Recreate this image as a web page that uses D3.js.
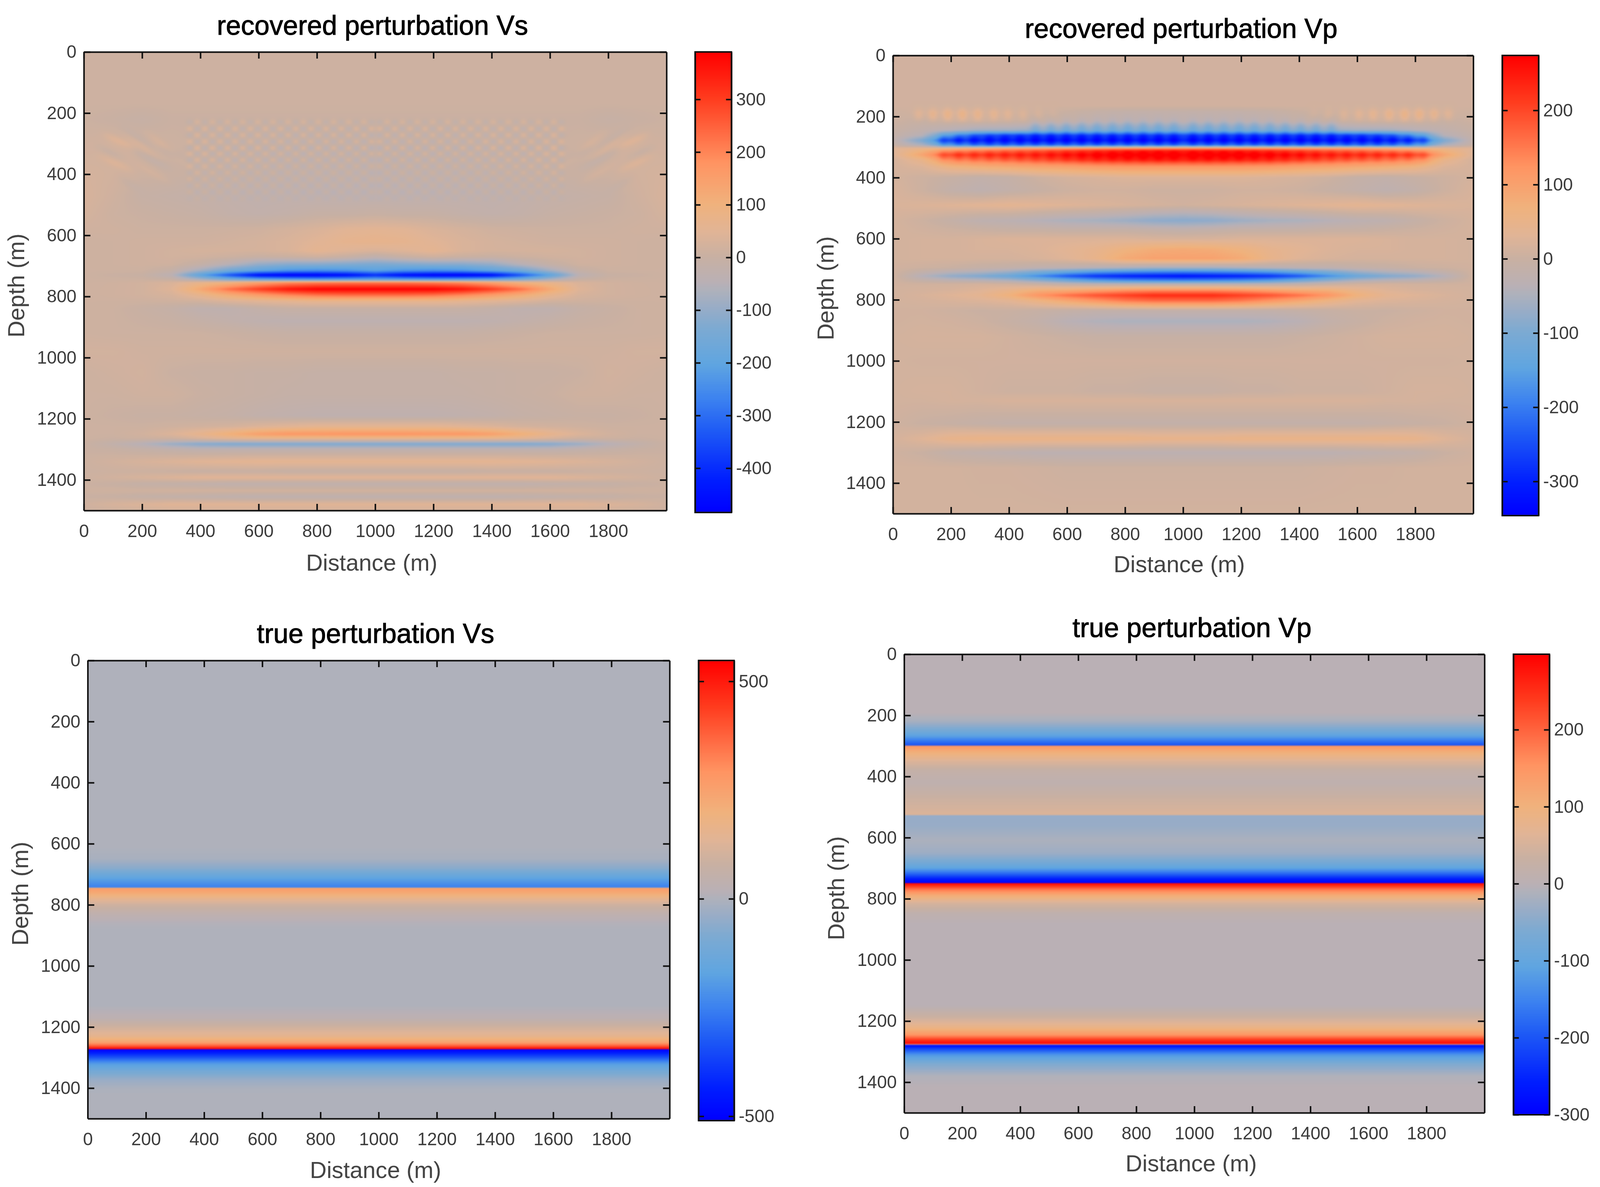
<!DOCTYPE html>
<html>
<head>
<meta charset="utf-8">
<title>perturbation</title>
<script src="https://cdn.jsdelivr.net/npm/d3@7"></script>
<style>
  html, body { margin: 0; padding: 0; background: #fff; overflow: hidden; }
  #chart { position: relative; width: 4141px; height: 3039px; overflow: hidden; transform-origin: 0 0; }
  #chart canvas { position: absolute; filter: blur(1.5px); }
  #chart svg { position: absolute; left: 0; top: 0; filter: blur(0.7px); }
  text { font-family: "Liberation Sans", Arial, sans-serif; }
</style>
</head>
<body>
<div id="chart"></div>
<script>
// tick labels
const distanceTicks = [0, 200, 400, 600, 800, 1000, 1200, 1400, 1600, 1800]
const depthTicks = [0, 200, 400, 600, 800, 1000, 1200, 1400]
const recVsBarTicks = [300, 200, 100, 0, -100, -200, -300, -400]
const recVpBarTicks = [200, 100, 0, -100, -200, -300]
const trueVsBarTicks = [500, 0, -500]
const trueVpBarTicks = [200, 100, 0, -100, -200, -300]

// colour limits of each panel
const recVsLimits = [-484, 390]
const recVpLimits = [-346, 274]
const trueVsLimits = [-510, 548]
const trueVpLimits = [-300, 298]

// colormap
const cmapStops = [0, 0.07, 0.175, 0.245, 0.32, 0.4, 0.44, 0.48, 0.5, 0.555, 0.61, 0.67, 0.76, 0.82, 0.9, 1]
const cmapColors = [
  'rgb(0,0,255)', 'rgb(0,30,255)', 'rgb(30,90,245)', 'rgb(60,130,240)', 'rgb(95,165,225)',
  'rgb(125,170,210)', 'rgb(150,172,200)', 'rgb(174,177,188)', 'rgb(186,176,181)', 'rgb(200,176,163)', 'rgb(225,180,150)',
  'rgb(240,178,125)', 'rgb(255,148,98)', 'rgb(255,110,70)', 'rgb(255,60,30)', 'rgb(255,0,0)',
]

// true models: depth profiles, same at every distance
const trueVsDepths = [0, 610, 650, 680, 700, 720, 735, 744, 745, 760, 780, 800, 830, 860, 880, 1130, 1170, 1190, 1230, 1250, 1262, 1272, 1273, 1290, 1305, 1320, 1345, 1370, 1400, 1420, 1500]
const trueVsValues = [0, 0, -13, -66, -129, -193, -235, -256, 273, 230, 156, 93, 40, 8, 0, 0, 30, 72, 156, 252, 389, 548, -510, -400, -298, -193, -108, -44, -7, 0, 0]
const trueVpDepths = [0, 190, 220, 250, 270, 285, 298, 299, 320, 350, 380, 420, 470, 500, 526, 527, 560, 610, 650, 680, 700, 720, 735, 748, 749, 770, 790, 815, 850, 880, 1150, 1190, 1220, 1245, 1265, 1276, 1277, 1290, 1310, 1340, 1380, 1420, 1500]
const trueVpValues = [0, 0, -20, -73, -120, -168, -204, 154, 107, 59, 23, 10, 35, 47, 59, -37, -35, -15, -30, -70, -110, -190, -260, -300, 295, 180, 110, 50, 10, 0, 0, 40, 85, 150, 260, 295, -300, -220, -130, -60, -10, 0, 0]

// recovered models: half section, right half is the mirror of the left
const halfDistances = [0, 100, 200, 300, 400, 500, 600, 700, 800, 900, 1000]
const recVsDepths = [0, 170, 220, 300, 400, 470, 530, 580, 620, 650, 670, 695, 715, 730, 745, 755, 776, 795, 815, 840, 880, 920, 980, 1050, 1120, 1190, 1225, 1250, 1265, 1282, 1300, 1340, 1372, 1392, 1413, 1435, 1455, 1480, 1500]
const recVsGrid = [
  [10, 10, 10, 10, 10, 10, 10, 10, 10, 10, 10],
  [10, 10, 10, 10, 10, 10, 10, 10, 10, 10, 10],
  [8, 2, -5, 5, 5, 5, 5, 5, 5, 5, 5],
  [15, 20, 15, 10, 5, 0, 0, -5, -5, -5, -5],
  [25, 20, 10, 5, 0, -5, -10, -15, -15, -15, -20],
  [30, 15, -5, -10, -15, -20, -25, -25, -30, -30, -30],
  [25, 10, 5, 0, -5, -15, -20, -15, -5, -5, 0],
  [15, 15, 10, 10, 10, 12, 15, 25, 35, 50, 55],
  [10, 12, 15, 15, 15, 20, 25, 35, 50, 65, 70],
  [10, 12, 15, 20, 25, 25, 25, 35, 60, 45, 35],
  [10, 12, 15, 20, 18, 10, 0, 5, 15, 0, -25],
  [10, 12, 15, 15, -10, -50, -100, -120, -120, -130, -140],
  [10, 10, 10, -10, -80, -160, -200, -240, -250, -240, -210],
  [10, 5, 0, -40, -200, -340, -460, -484, -484, -460, -400],
  [10, 10, 10, 0, -60, -130, -170, -190, -200, -190, -180],
  [12, 14, 20, 35, 70, 100, 150, 190, 210, 220, 220],
  [12, 15, 20, 45, 130, 230, 300, 360, 390, 390, 390],
  [12, 15, 20, 30, 70, 120, 160, 200, 230, 240, 240],
  [12, 12, 12, 15, 20, 40, 50, 60, 70, 70, 70],
  [12, 10, 0, -10, -30, -30, -15, -5, -5, -5, -5],
  [12, 10, 5, 0, -10, -20, -30, -35, -35, -35, -35],
  [12, 10, 10, 10, 10, 5, 0, -5, -5, -5, -5],
  [20, 20, 15, 15, 15, 15, 15, 15, 15, 15, 15],
  [10, 15, 20, 5, 0, 0, -5, -5, -10, -10, -10],
  [10, 10, 15, 15, 5, 0, -5, -10, -10, -10, -10],
  [10, 5, 0, 0, -5, -10, -20, -25, -30, -30, -30],
  [10, 10, 10, 15, 20, 25, 40, 50, 60, 60, 60],
  [10, 10, 20, 40, 70, 110, 150, 170, 170, 175, 175],
  [10, 5, 10, 10, 30, 50, 60, 60, 60, 60, 60],
  [5, -20, -50, -90, -120, -130, -130, -130, -130, -130, -130],
  [5, 0, -10, -20, -30, -30, -30, -30, -30, -30, -30],
  [10, 20, 30, 40, 50, 55, 60, 60, 60, 60, 60],
  [8, 10, 10, 5, 0, 0, 0, -5, -5, -5, -5],
  [10, 20, 30, 40, 50, 50, 50, 50, 50, 50, 50],
  [8, 0, -10, -15, -20, -25, -25, -25, -25, -25, -25],
  [10, 15, 15, 20, 20, 20, 20, 20, 20, 20, 20],
  [5, 0, -10, -15, -20, -25, -30, -30, -30, -30, -30],
  [15, 30, 40, 50, 50, 50, 50, 50, 50, 50, 50],
  [10, 15, 20, 25, 25, 25, 25, 25, 25, 25, 25],
]
const recVpDepths = [0, 165, 185, 215, 245, 262, 278, 293, 305, 313, 325, 342, 352, 365, 400, 440, 490, 540, 570, 600, 635, 665, 695, 708, 722, 735, 748, 770, 785, 803, 835, 870, 920, 1000, 1100, 1130, 1205, 1255, 1300, 1350, 1500]
const recVpGrid = [
  [10, 10, 10, 10, 10, 10, 10, 10, 10, 10, 10],
  [10, 10, 10, 10, 10, 10, 10, 10, 10, 10, 10],
  [5, 10, 15, 15, 10, 5, 0, -10, -15, -15, -15],
  [5, -5, 5, 5, 0, -5, -10, -20, -25, -25, -25],
  [-5, -20, -40, -60, -60, -70, -80, -85, -90, -90, -90],
  [-10, -40, -160, -235, -255, -255, -255, -255, -255, -255, -255],
  [-15, -100, -250, -280, -285, -290, -290, -290, -290, -290, -290],
  [-5, -50, -150, -195, -200, -200, -200, -200, -200, -200, -200],
  [30, 50, 70, 90, 110, 115, 125, 135, 140, 145, 145],
  [25, 70, 130, 150, 165, 180, 200, 220, 235, 240, 240],
  [25, 95, 190, 205, 215, 225, 240, 255, 265, 265, 265],
  [15, 50, 130, 150, 165, 180, 200, 220, 230, 235, 235],
  [15, 40, 100, 115, 125, 140, 150, 165, 170, 175, 175],
  [15, 25, 60, 75, 85, 95, 100, 110, 115, 115, 115],
  [15, 5, -5, -15, -10, 5, 15, 20, 25, 25, 25],
  [20, 5, -15, -25, -15, -5, 5, 10, 10, 5, 5],
  [20, 25, 30, 35, 40, 35, 30, 25, 20, 15, 10],
  [15, 5, -10, -25, -30, -40, -50, -55, -65, -80, -85],
  [15, 10, 5, 0, -5, -5, -10, -10, -10, -15, -20],
  [12, 15, 15, 20, 25, 25, 25, 25, 25, 20, 20],
  [12, 15, 15, 20, 20, 25, 35, 45, 65, 80, 85],
  [12, 15, 15, 15, 15, 20, 30, 50, 85, 100, 100],
  [10, 5, 0, -10, -15, -25, -30, -40, -50, -60, -60],
  [10, -15, -35, -45, -65, -100, -130, -160, -175, -185, -190],
  [10, -40, -75, -95, -125, -180, -240, -280, -300, -310, -320],
  [10, -15, -30, -40, -55, -90, -130, -170, -190, -200, -205],
  [10, 10, 10, 15, 10, -5, -20, -30, -35, -35, -35],
  [12, 15, 20, 30, 50, 80, 90, 110, 130, 140, 140],
  [12, 20, 30, 40, 70, 120, 160, 190, 210, 230, 230],
  [12, 15, 20, 25, 35, 60, 90, 120, 150, 165, 165],
  [10, 10, 5, 0, 0, -5, -10, -15, -15, -15, -15],
  [10, 12, 10, 5, -5, -15, -35, -45, -50, -50, -50],
  [12, 15, 15, 15, 10, 5, 0, -5, -5, -5, -5],
  [12, 10, 10, 10, 10, 10, 10, 10, 10, 10, 10],
  [12, 15, 15, 10, 5, 5, 5, 0, 0, -5, -5],
  [12, 12, 15, 15, 20, 20, 20, 20, 20, 20, 20],
  [8, 0, -5, -10, -15, -15, -15, -15, -15, -15, -15],
  [15, 30, 50, 55, 55, 55, 55, 55, 55, 50, 50],
  [8, 0, -15, -20, -25, -30, -30, -30, -30, -30, -30],
  [12, 12, 12, 10, 10, 8, 5, 5, 5, 5, 5],
  [12, 12, 12, 12, 12, 12, 12, 12, 12, 12, 12],
]

// fine texture in the recovered Vs section: checkerboard cells and slanted streaks
const checkerDepths = [228, 250, 271, 292, 313, 332, 352, 373, 394, 415, 436, 457, 478]
const checkerAmps = [20, 28, 28, 28, 34, 28, 28, 25, 21, 20, 20, 17, 11]
const checkerDistances = [362, 388, 414, 440, 466, 492, 518, 544, 570, 596, 622, 648, 674, 700, 726, 752, 778, 804, 830, 856, 882, 908, 934, 960, 986]
const vsStreaks = [
  [57, 264, 177, 315, 28], [123, 256, 273, 358, 18], [198, 247, 362, 375, 18],
  [44, 337, 177, 392, 22], [167, 358, 309, 435, 14], [119, 239, 256, 324, -18],
  [35, 303, 141, 350, -18], [159, 316, 309, 388, -25], [252, 307, 345, 350, -20],
  [110, 405, 212, 460, -12],
]

// beads along the shallow reflector of the recovered Vp section
const vpBeadDistances = [172, 225, 278, 331, 384, 437, 490, 543, 596, 649, 702, 755, 808, 861, 914, 967]
const vpBeadRows = [[278, -60, 14], [326, 35, 14], [235, -35, 20]]
const vpTopDotDistances = [88, 136, 187, 238, 291, 347, 395, 447, 500, 550]
const vpTopDotAmps = [25, 35, 40, 40, 35, 30, 25, 20, 15, 10]

// texts
const titles = ['recovered perturbation Vs', 'recovered perturbation Vp', 'true perturbation Vs', 'true perturbation Vp']

// ---- drawing
const layout = [
  {x0: 217, x1: 1725, y0: 133, y1: 1307, bx0: 1799, bx1: 1893, by0: 133, by1: 1312, titleX: 964, titleY: 89, xlabX: 962, xlabY: 1461, ylabX: 63, ylabY: 731},
  {x0: 2311, x1: 3813, y0: 142, y1: 1315, bx0: 3888, bx1: 3982, by0: 142, by1: 1320, titleX: 3057, titleY: 97, xlabX: 3052, xlabY: 1465, ylabX: 2157, ylabY: 738},
  {x0: 227, x1: 1733, y0: 1691, y1: 2864, bx0: 1808, bx1: 1900, by0: 1691, by1: 2869, titleX: 972, titleY: 1646, xlabX: 972, xlabY: 3016, ylabX: 73, ylabY: 2288},
  {x0: 2340, x1: 3842, y0: 1675, y1: 2849, bx0: 3917, bx1: 4010, by0: 1675, by1: 2854, titleX: 3085, titleY: 1631, xlabX: 3083, xlabY: 2999, ylabX: 2185, ylabY: 2274},
]

const cmap = d3.scaleLinear().domain(cmapStops).range(cmapColors)
const lut = d3.range(1024).map(i => d3.rgb(cmap(i / 1023)))

const chart = d3.select('#chart')
// the browser window can come out narrower than asked, keep the whole figure in it
chart.style('transform', `scaleX(${Math.min(1, window.innerWidth / 4141)})`)
const svg = chart.append('svg').attr('width', 4141).attr('height', 3039)

function putPixels(canvas, w, h, valueAt) {
  const ctx = canvas.getContext('2d')
  const img = ctx.createImageData(w, h)
  for (let i = 0; i < w * h; i++) {
    const c = lut[Math.round(valueAt(i) * 1023)]
    img.data[4 * i] = c.r
    img.data[4 * i + 1] = c.g
    img.data[4 * i + 2] = c.b
    img.data[4 * i + 3] = 255
  }
  ctx.putImageData(img, 0, 0)
}

function addBlob(field, w, h, px, py, x, d, amp, sx, sd) {
  const cx = px(x)
  const cy = py(d)
  const rx = Math.abs(px(sx) - px(0))
  const ry = Math.abs(py(sd) - py(0))
  const xa = Math.max(0, Math.floor(cx - 3 * rx))
  const xb = Math.min(w - 1, Math.ceil(cx + 3 * rx))
  const ya = Math.max(0, Math.floor(cy - 3 * ry))
  const yb = Math.min(h - 1, Math.ceil(cy + 3 * ry))
  for (let j = ya; j <= yb; j++) {
    for (let i = xa; i <= xb; i++) {
      const a = (i - cx) / rx
      const b = (j - cy) / ry
      field[j * w + i] += amp * Math.exp(-(a * a + b * b) / 2)
    }
  }
}

function addStreak(field, w, h, px, py, s) {
  // a slanted ridge is a chain of soft blobs between its two ends
  const len = Math.hypot(s[2] - s[0], s[3] - s[1])
  const steps = Math.ceil(len / 6)
  d3.range(steps + 1).forEach(k => {
    const x = s[0] + (s[2] - s[0]) * k / steps
    const d = s[1] + (s[3] - s[1]) * k / steps
    const taper = Math.sin(Math.PI * (k + 0.5) / (steps + 1))
    addBlob(field, w, h, px, py, x, d, s[4] * taper * 0.22, 10, 9)
  })
}

function drawPanel(i, limits, barTicks, fill) {
  const L = layout[i]
  const xScale = d3.scaleLinear().domain([0, 2000]).range([L.x0, L.x1])
  const yScale = d3.scaleLinear().domain([0, 1500]).range([L.y0, L.y1])
  const plotW = L.x1 - L.x0
  const plotH = L.y1 - L.y0

  // image
  const w = Math.round(plotW / 2)
  const h = Math.round(plotH / 2)
  const px = d3.scaleLinear().domain([0, 2000]).range([0, w])
  const py = d3.scaleLinear().domain([0, 1500]).range([0, h])
  const field = new Float64Array(w * h)
  fill(field, w, h, px, py)

  const toT = d3.scaleLinear().domain(limits).range([0, 1]).clamp(true)
  const canvas = chart.append('canvas')
    .attr('width', w).attr('height', h)
    .style('left', L.x0 + 'px').style('top', L.y0 + 'px')
    .style('width', plotW + 'px').style('height', plotH + 'px')
    .node()
  putPixels(canvas, w, h, k => toT(field[k]))

  // colorbar
  const barCanvas = chart.append('canvas')
    .attr('width', 1).attr('height', 512)
    .style('left', L.bx0 + 'px').style('top', L.by0 + 'px')
    .style('width', (L.bx1 - L.bx0) + 'px').style('height', (L.by1 - L.by0) + 'px')
    .node()
  putPixels(barCanvas, 1, 512, k => 1 - k / 511)

  const g = svg.append('g')

  const styleAxis = (sel, size) => {
    sel.selectAll('path').attr('stroke', '#111').attr('stroke-width', 4)
    sel.selectAll('line').attr('stroke', '#111').attr('stroke-width', 4)
    sel.selectAll('text').attr('fill', '#3c3c3c').attr('font-size', size)
  }

  g.append('g').attr('transform', `translate(0,${L.y1})`)
    .call(d3.axisBottom(xScale).tickValues(distanceTicks).tickFormat(d3.format('d')).tickSizeInner(-17).tickSizeOuter(0).tickPadding(35))
    .call(styleAxis, 46)
    .attr('font-family', null)
  g.append('g').attr('transform', `translate(0,${L.y0})`)
    .call(d3.axisTop(xScale).tickValues(distanceTicks).tickFormat('').tickSizeInner(-17).tickSizeOuter(0))
    .call(styleAxis, 46)
  g.append('g').attr('transform', `translate(${L.x0},0)`)
    .call(d3.axisLeft(yScale).tickValues(depthTicks).tickFormat(d3.format('d')).tickSizeInner(-17).tickSizeOuter(0).tickPadding(19))
    .call(styleAxis, 46)
    .attr('font-family', null)
  g.append('g').attr('transform', `translate(${L.x1},0)`)
    .call(d3.axisRight(yScale).tickValues(depthTicks).tickFormat('').tickSizeInner(-17).tickSizeOuter(0))
    .call(styleAxis, 46)

  const barScale = d3.scaleLinear().domain(limits).range([L.by1, L.by0])
  const barGrp = g.append('g')
  barGrp.append('g').attr('transform', `translate(${L.bx1},0)`)
    .call(d3.axisRight(barScale).tickValues(barTicks).tickFormat(v => String(v)).tickSizeInner(-14).tickSizeOuter(0).tickPadding(12))
    .call(styleAxis, 46)
    .attr('font-family', null)
  barGrp.append('g').attr('transform', `translate(${L.bx0},0)`)
    .call(d3.axisLeft(barScale).tickValues(barTicks).tickFormat('').tickSizeInner(-14).tickSizeOuter(0))
    .call(styleAxis, 46)
  barGrp.append('rect')
    .attr('x', L.bx0).attr('y', L.by0)
    .attr('width', L.bx1 - L.bx0).attr('height', L.by1 - L.by0)
    .attr('fill', 'none').attr('stroke', '#111').attr('stroke-width', 4)

  g.append('text').attr('x', L.titleX).attr('y', L.titleY)
    .attr('text-anchor', 'middle').attr('font-size', 70)
    .attr('fill', '#000').attr('stroke', '#000').attr('stroke-width', 1.2)
    .text(titles[i])
  g.append('text').attr('x', L.xlabX).attr('y', L.xlabY)
    .attr('text-anchor', 'middle').attr('font-size', 60).attr('fill', '#444')
    .text('Distance (m)')
  g.append('text').attr('transform', `translate(${L.ylabX},${L.ylabY}) rotate(-90)`)
    .attr('text-anchor', 'middle').attr('font-size', 60).attr('fill', '#444')
    .text('Depth (m)')
}

const fillProfile = (depths, values) => (field, w, h, px, py) => {
  const profile = d3.scaleLinear().domain(depths).range(values)
  for (let j = 0; j < h; j++) {
    const v = profile(py.invert(j + 0.5))
    for (let i = 0; i < w; i++) field[j * w + i] = v
  }
}

const fillGrid = (depths, grid, extras) => (field, w, h, px, py) => {
  const columns = halfDistances.map((_, c) =>
    d3.scaleLinear().domain(depths).range(grid.map(r => r[c])),
  )
  for (let j = 0; j < h; j++) {
    const d = py.invert(j + 0.5)
    const row = d3.scaleLinear().domain(halfDistances).range(columns.map(s => s(d)))
    for (let i = 0; i < w; i++) {
      const x = px.invert(i + 0.5)
      field[j * w + i] = row(x > 1000 ? 2000 - x : x)
    }
  }
  extras(field, w, h, px, py)
}

const vsExtras = (field, w, h, px, py) => {
  checkerDepths.forEach((d, r) => {
    checkerDistances.forEach((x, c) => {
      const amp = (r + c) % 2 ? checkerAmps[r] : -checkerAmps[r]
      addBlob(field, w, h, px, py, x, d, amp, 8, 6)
      addBlob(field, w, h, px, py, 2000 - x, d, amp, 8, 6)
    })
  })
  vsStreaks.forEach(s => {
    addStreak(field, w, h, px, py, s)
    addStreak(field, w, h, px, py, [2000 - s[0], s[1], 2000 - s[2], s[3], s[4]])
  })
}

const vpExtras = (field, w, h, px, py) => {
  vpBeadRows.forEach(([d, amp, sd], r) => {
    vpBeadDistances.forEach(x => {
      // the upper row of faint spikes only shows toward the middle
      if (r === 2 && x < 450) return
      addBlob(field, w, h, px, py, x, d, amp, 13, sd)
      addBlob(field, w, h, px, py, 2000 - x, d, amp, 13, sd)
    })
  })
  vpTopDotDistances.forEach((x, k) => {
    addBlob(field, w, h, px, py, x, 193, vpTopDotAmps[k], 12, 14)
    addBlob(field, w, h, px, py, 2000 - x, 193, vpTopDotAmps[k], 12, 14)
  })
}

drawPanel(0, recVsLimits, recVsBarTicks, fillGrid(recVsDepths, recVsGrid, vsExtras))
drawPanel(1, recVpLimits, recVpBarTicks, fillGrid(recVpDepths, recVpGrid, vpExtras))
drawPanel(2, trueVsLimits, trueVsBarTicks, fillProfile(trueVsDepths, trueVsValues))
drawPanel(3, trueVpLimits, trueVpBarTicks, fillProfile(trueVpDepths, trueVpValues))

// svg stays above the canvases
svg.raise()
</script>
</body>
</html>
